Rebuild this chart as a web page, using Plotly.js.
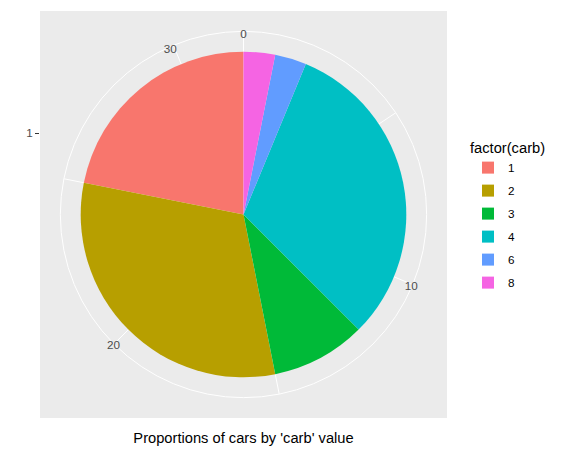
<!DOCTYPE html>
<html>
<head>
<meta charset="utf-8">
<script src="https://cdn.plot.ly/plotly-3.0.1.min.js"></script>
<style>
  html, body { margin: 0; padding: 0; background: #fff; }
  #chart { width: 561px; height: 462px; }
</style>
</head>
<body>
<div id="chart"></div>
<script>
// mtcars: number of cars per carb value
var carbLevels = ['1', '2', '3', '4', '6', '8'];
var carbCounts = [7, 10, 3, 10, 1, 1];
var carbColors = ['#F8766D', '#B79F00', '#00BA38', '#00BFC4', '#619CFF', '#F564E3'];
var thetaTicks = [0, 5, 10, 15, 20, 25, 30];
var thetaTickText = ['0', '', '10', '', '20', '', '30'];

var total = carbCounts.reduce(function (a, b) { return a + b; }, 0);
var toDeg = function (v) { return v / total * 360; };

// ggplot stacks the last level first, so '8' starts at 0 and '1' ends at total
var traces = carbLevels.map(function (lvl, i) {
	var start = 0;
	for (var j = i + 1; j < carbCounts.length; j++) start += carbCounts[j];
	return {
		type: 'barpolar',
		name: lvl,
		r: [1],
		theta: [toDeg(start + carbCounts[i] / 2)],
		width: [toDeg(carbCounts[i])],
		marker: {color: carbColors[i], line: {width: 0}},
		legendgroup: 'g' + lvl,
		hoverinfo: 'skip'
	};
});

// empty cartesian trace so the panel + left axis ("1") + axis title get drawn
traces.push({type: 'scatter', x: [], y: [], showlegend: false, hoverinfo: 'skip'});
// invisible point on a second, smaller polar that only carries the theta labels
traces.push({type: 'scatterpolar', subplot: 'polar2', r: [0], theta: [0], mode: 'markers',
	marker: {opacity: 0}, showlegend: false, hoverinfo: 'skip'});

var W = 561, H = 462;
var panel = {x0: 40, x1: 447, y0: 11, y1: 418};
var cx = (panel.x0 + panel.x1) / 2, cy = (panel.y0 + panel.y1) / 2;
var side = panel.x1 - panel.x0;
var rPie = 0.4 * side, rOuter = 0.45 * side, rLab = rOuter - 9;

function dom(r) {
	return {x: [(cx - r) / W, (cx + r) / W], y: [1 - (cy + r) / H, 1 - (cy - r) / H]};
}

var angCommon = {
	rotation: 90,
	direction: 'clockwise',
	tickmode: 'array',
	tickvals: thetaTicks.map(toDeg),
	ticktext: thetaTickText,
	ticks: ''
};

var layout = {
	width: W, height: H,
	margin: {l: 0, r: 0, t: 0, b: 0},
	paper_bgcolor: '#FFFFFF',
	plot_bgcolor: '#EBEBEB',
	font: {family: '"Liberation Sans", Arial, sans-serif', color: '#000000'},
	xaxis: {
		domain: [panel.x0 / W, panel.x1 / W],
		range: [0, 1],
		showgrid: false, zeroline: false, showticklabels: false, ticks: '',
		fixedrange: true,
		title: {text: "Proportions of cars by 'carb' value", font: {size: 14.7, color: '#000000'}, standoff: 14}
	},
	yaxis: {
		domain: [1 - panel.y1 / H, 1 - panel.y0 / H],
		// r axis: 0.5 at centre, 1 unit = rPie pixels
		range: [0.5 - (side / 2) / rPie, 0.5 + (side / 2) / rPie],
		tickmode: 'array', tickvals: [1], ticktext: ['1'],
		ticks: 'outside', ticklen: 4, tickwidth: 1, tickcolor: '#333333',
		tickfont: {size: 11.7, color: '#4D4D4D'},
		showgrid: false, zeroline: false, fixedrange: true
	},
	polar: {
		domain: dom(rOuter),
		bgcolor: '#EBEBEB',
		bargap: 0,
		radialaxis: {range: [0, rOuter / rPie], visible: false, showgrid: false},
		angularaxis: Object.assign({}, angCommon, {
			showticklabels: false,
			showline: true, linecolor: '#FFFFFF', linewidth: 1,
			showgrid: true, gridcolor: '#FFFFFF', gridwidth: 1
		})
	},
	polar2: {
		domain: dom(rLab),
		bgcolor: 'rgba(0,0,0,0)',
		radialaxis: {range: [0, 1], visible: false, showgrid: false},
		angularaxis: Object.assign({}, angCommon, {
			showline: false, showgrid: false,
			tickfont: {size: 11.7, color: '#4D4D4D'}
		})
	},
	showlegend: true,
	legend: {
		x: 468 / W, y: 1 - 134 / H,
		xanchor: 'left', yanchor: 'top',
		traceorder: 'grouped',
		tracegroupgap: 4,
		bgcolor: 'rgba(0,0,0,0)',
		font: {size: 11.7, color: '#000000'},
		title: {text: 'factor(carb)', font: {size: 14.7, color: '#000000'}}
	}
};

Plotly.newPlot('chart', traces, layout, {staticPlot: true, displaylogo: false});
</script>
</body>
</html>
